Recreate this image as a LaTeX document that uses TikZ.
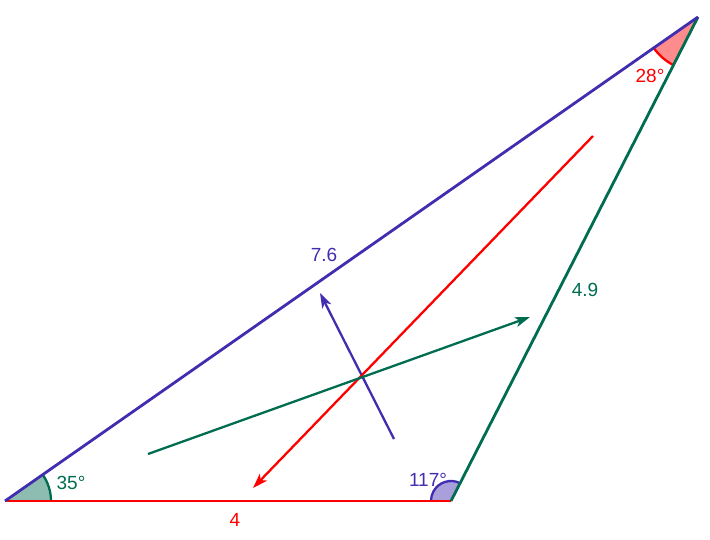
\documentclass[tikz,border=0pt]{standalone}
\usepackage{fontspec}
\setmainfont{Liberation Sans}
\usetikzlibrary{arrows.meta}
\definecolor{gblue}{RGB}{64,45,175}
\definecolor{ggreen}{RGB}{0,108,80}
\definecolor{gred}{RGB}{255,0,0}
\tikzset{
  side/.style={line width=2.8pt},
  vec/.style={line width=2.3pt,-{Stealth[length=15pt,width=10pt,inset=4pt]}},
  lbl/.style={inner sep=0pt,font=\fontsize{19}{22}\selectfont},
  angfill/.style={fill opacity=0.45,draw=none},
  angarc/.style={line width=2.3pt}
}
\begin{document}
\begin{tikzpicture}[x=1pt,y=1pt]
\useasboundingbox (0,0) rectangle (710,539);
\coordinate (A) at (5,38);
\coordinate (B) at (451,38);
\coordinate (C) at (698,522);
% angle fills
\fill[ggreen,angfill] (A) -- ++(0:46) arc[start angle=0,end angle=34.93,radius=46] -- cycle;
\fill[gblue,angfill] (B) -- ++(62.96:20) arc[start angle=62.96,end angle=180,radius=20] -- cycle;
\fill[gred,angfill] (C) -- ++(214.93:54) arc[start angle=214.93,end angle=242.96,radius=54] -- cycle;
% angle arcs
\draw[ggreen,angarc] (A) ++(0:46) arc[start angle=0,end angle=34.93,radius=46];
\draw[gblue,angarc] (B) ++(62.96:20) arc[start angle=62.96,end angle=180,radius=20];
\draw[gred,angarc] (C) ++(214.93:54) arc[start angle=214.93,end angle=242.96,radius=54];
% sides
\draw[side,gred] (A) -- (B);
\draw[side,ggreen] (B) -- (C);
\draw[side,gblue] (C) -- (A);
% vectors
\coordinate (b1) at (394,100);
\coordinate (b2) at (320,246);
\coordinate (r1) at (593,403);
\coordinate (r2) at (253,51);
\coordinate (g1) at (148,85);
\coordinate (g2) at (530,222);
\draw[vec,gblue] (b1) -- (b2);
\draw[vec,gred] (r1) -- (r2);
\draw[vec,ggreen] (g1) -- (g2);
% labels
\node[lbl,text=gblue] (l76) at (324,284) {7.6};
\node[lbl,text=ggreen] (l49) at (585,249) {4.9};
\node[lbl,text=gred] (l4) at (235,19) {4};
\node[lbl,text=ggreen] (a35) at (71,56) {35°};
\node[lbl,text=gblue] (a117) at (428,59) {117°};
\node[lbl,text=gred] (a28) at (650,463) {28°};
\end{tikzpicture}
\end{document}
